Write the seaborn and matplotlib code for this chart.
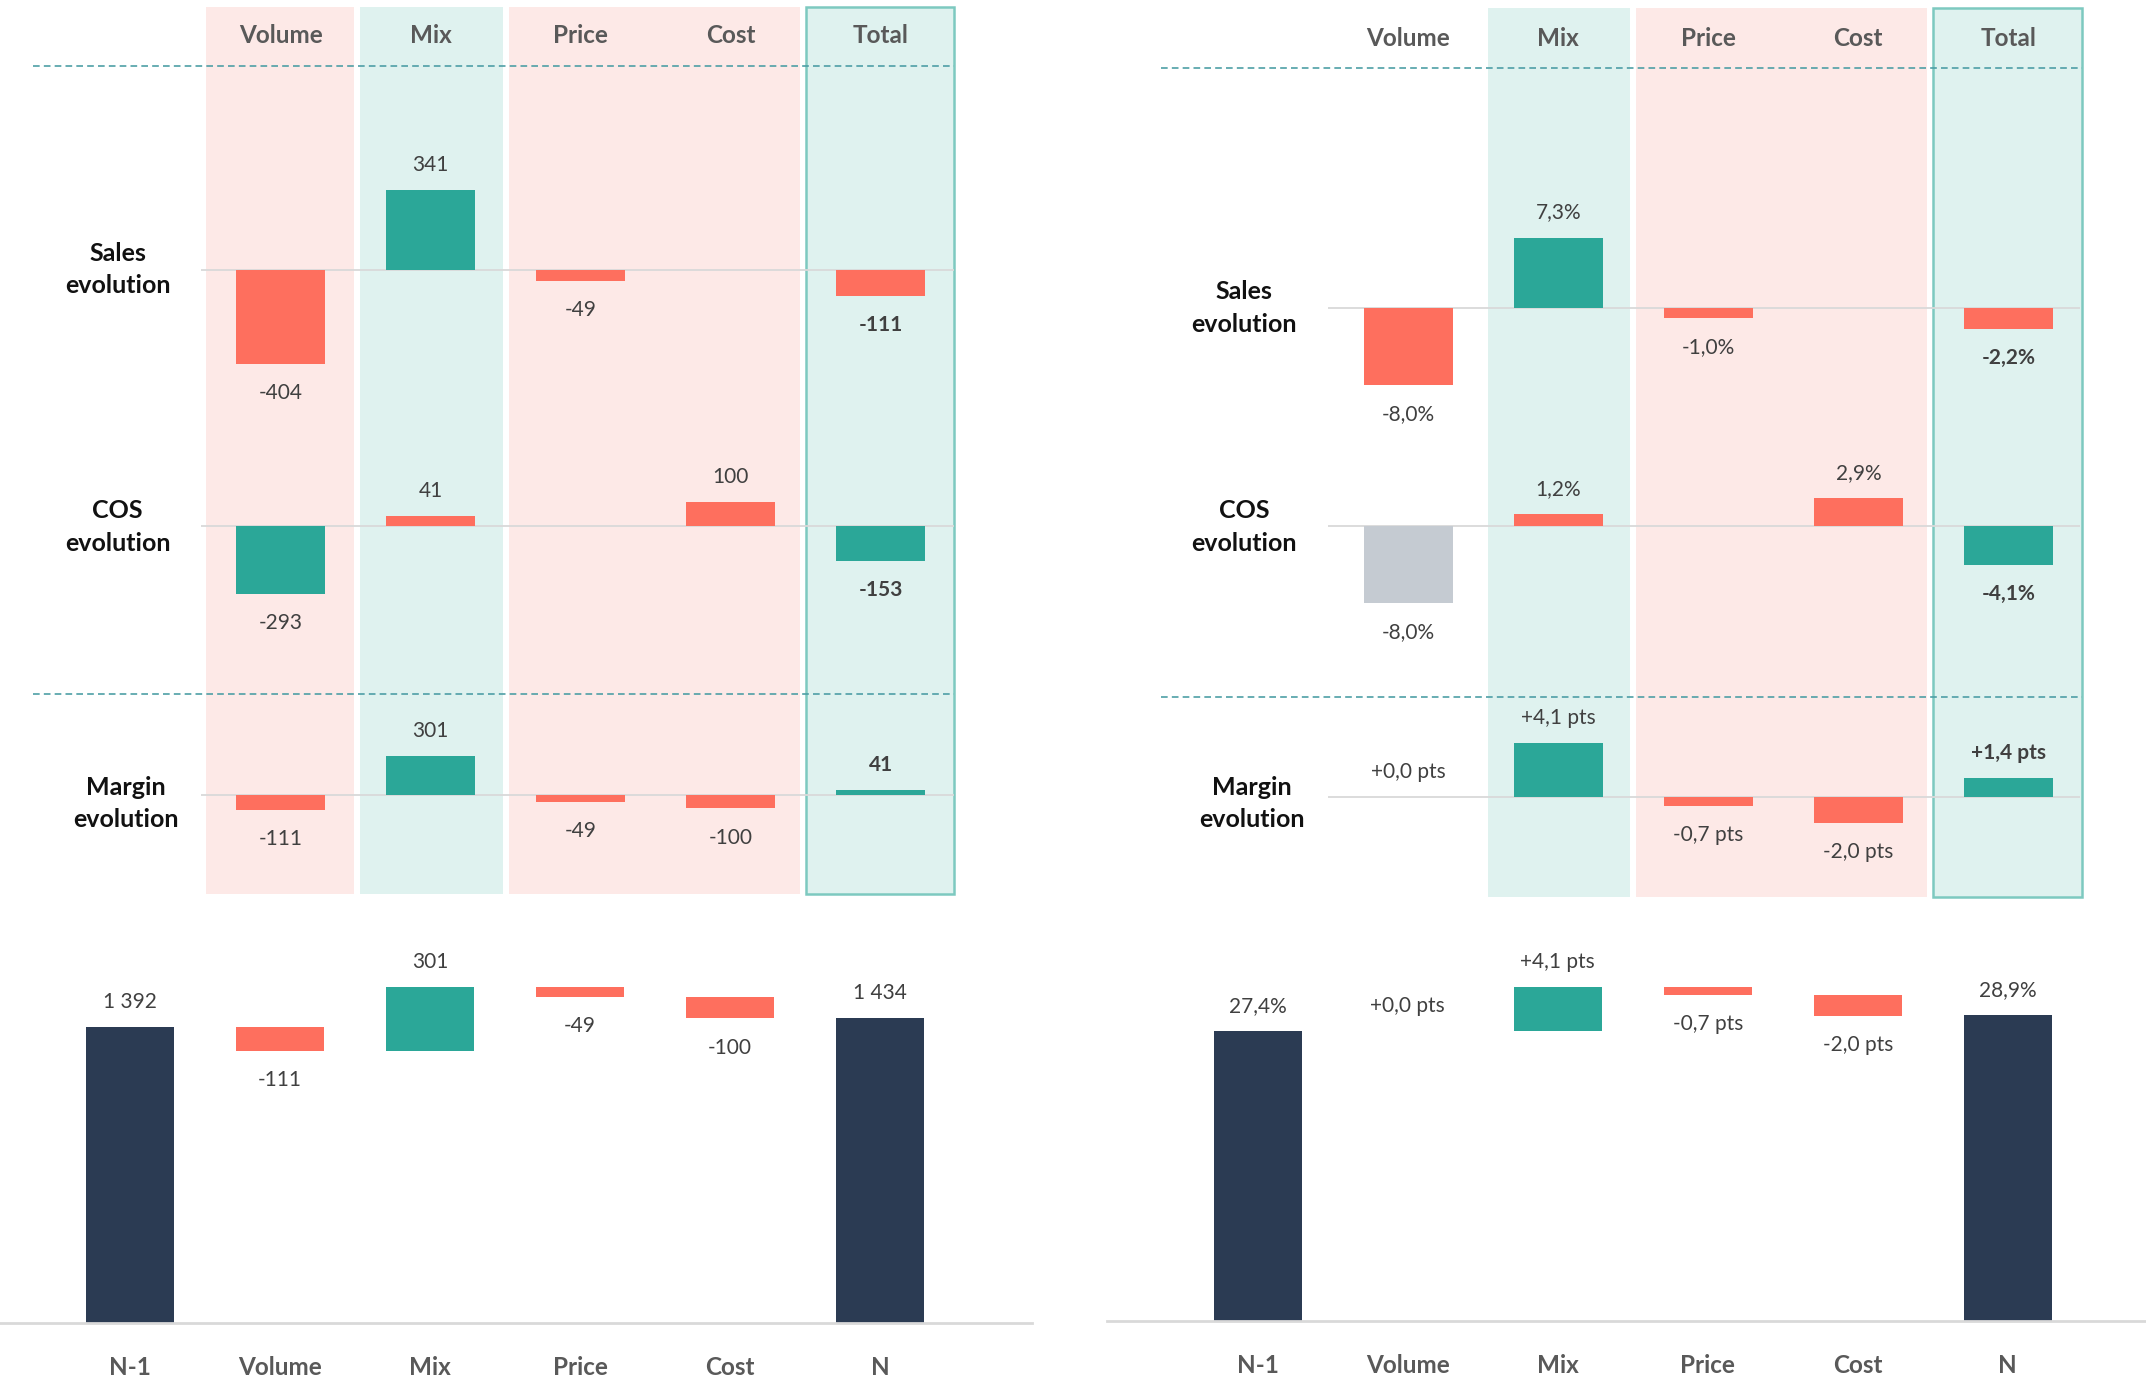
import numpy as np
import pandas as pd
import matplotlib.pyplot as plt
from matplotlib.patches import Rectangle
import seaborn as sns

# ---- data ----
drivers = ['Volume', 'Mix', 'Price', 'Cost', 'Total']
wf_steps = ['N-1', 'Volume', 'Mix', 'Price', 'Cost', 'N']

# left panel : values
sales_val = [-404, 341, -49, np.nan, -111]
cos_val = [-293, 41, np.nan, 100, -153]
margin_val = [-111, 301, -49, -100, 41]
sales_val_state = ['bad', 'good', 'bad', None, 'bad']
cos_val_state = ['good', 'bad', None, 'bad', 'good']
margin_val_state = ['bad', 'good', 'bad', 'bad', 'good']
margin_start = 1392
margin_end = 1434

# right panel : rates
sales_pct = [-8.0, 7.3, -1.0, np.nan, -2.2]
cos_pct = [-8.0, 1.2, np.nan, 2.9, -4.1]
margin_pts = [0.0, 4.1, -0.7, -2.0, 1.4]
sales_pct_state = ['bad', 'good', 'bad', None, 'bad']
cos_pct_state = ['neutral', 'bad', None, 'bad', 'good']
margin_pts_state = ['good', 'good', 'bad', 'bad', 'good']
rate_start = 27.4
rate_end = 28.9

# column shading per panel (None = no shading)
left_shading = ['bad', 'good', 'bad', 'bad', 'total']
right_shading = [None, 'good', 'bad', 'bad', 'total']

# ---- style ----
RED = '#FE6F5E'
TEAL = '#2BA798'
NAVY = '#2B3B53'
GREY = '#C5CBD2'
COLORS = {'bad': RED, 'good': TEAL, 'neutral': GREY}
PINK_BG = '#FDE9E7'
TEAL_BG = '#DFF2EF'
TOTAL_EDGE = '#7DC9C0'
DASH = '#4E9FA6'
BASE_GREY = '#D9D9D9'
HEAD_TXT = '#595959'
ROW_TXT = '#111111'
VAL_TXT = '#404040'

sns.set_theme(style='white')
plt.rcParams['font.family'] = ['Lato', 'DejaVu Sans']

W, H = 1568, 1008      # layout grid (reference preview pixels)
STEP = 109.6           # distance between two columns on that grid
BAR_W = 0.59
VAL_FS = 15
HEAD_FS = 17.5
ROW_FS = 18


def box(x0, y0, x1, y1):
    return [x0 / W, 1 - y1 / H, (x1 - x0) / W, (y1 - y0) / H]


def fmt_int(v):
    return f'{v:,.0f}'.replace(',', ' ')


def fmt_pct(v):
    return f'{v:.1f}%'.replace('.', ',')


def fmt_pts(v):
    return f'{v:+.1f} pts'.replace('.', ',')


fig = plt.figure(figsize=(21.46, 13.8), dpi=100)


def draw_background(x0, x1, c0, shading, top, bottom, head_y, dash_ys, dash_x0, row_labels):
    ax = fig.add_axes(box(x0, 0, x1, 660))
    ax.set_xlim((x0 - c0) / STEP, (x1 - c0) / STEP)
    ax.set_ylim(660, 0)
    ax.axis('off')
    spans = [(-0.5, 0.49), (0.53, 1.48), (1.52, 2.5), (2.5, 3.46), (3.5, 4.49)]
    for (a, b), kind in zip(spans, shading):
        if kind is None:
            continue
        if kind == 'total':
            ax.add_patch(Rectangle((a, top), b - a, bottom - top, facecolor=TEAL_BG,
                                   edgecolor=TOTAL_EDGE, lw=1.8, zorder=0))
        else:
            ax.add_patch(Rectangle((a, top), b - a, bottom - top, lw=0, zorder=0,
                                   facecolor=PINK_BG if kind == 'bad' else TEAL_BG))
    for y in dash_ys:
        ax.plot([(dash_x0 - c0) / STEP, 4.49], [y, y], color=DASH, lw=1.2,
                dashes=(4, 2.5), zorder=1)
    for i, d in enumerate(drivers):
        ax.text(i, head_y, d, ha='center', va='center', fontsize=HEAD_FS,
                fontweight='bold', color=HEAD_TXT)
    for lx, ly, txt in row_labels:
        ax.text((lx - c0) / STEP, ly, txt, ha='center', va='center', fontsize=ROW_FS,
                fontweight='bold', color=ROW_TXT, linespacing=1.5)


def draw_row(x0, x1, top, bottom, base, scale, c0, values, states, fmt):
    ax = fig.add_axes(box(x0, top, x1, bottom))
    df = pd.DataFrame({'driver': drivers, 'value': values, 'state': states})
    df = df.dropna(subset=['value'])
    pal = {d: COLORS[s] for d, s in zip(df['driver'], df['state'])}
    sns.barplot(data=df, x='driver', y='value', hue='driver', order=drivers,
                palette=pal, saturation=1, width=BAR_W, errorbar=None,
                legend=False, linewidth=0, ax=ax)
    ax.set_xlim((x0 - c0) / STEP, (x1 - c0) / STEP)
    ax.set_ylim(-(bottom - base) / scale, (base - top) / scale)
    ax.axhline(0, color=BASE_GREY, lw=1.3, zorder=0.5)
    ax.axis('off')
    for i, v in enumerate(values):
        if np.isnan(v):
            continue
        off = 18 if v >= 0 else -21
        ax.annotate(fmt(v), (i, v), xytext=(0, off), textcoords='offset points',
                    ha='center', va='center', fontsize=VAL_FS, color=VAL_TXT,
                    fontweight='bold' if drivers[i] == 'Total' else 'normal',
                    annotation_clip=False)


def draw_waterfall(x0, x1, top, base, scale, c0, start, deltas, end, fmt_end, fmt_delta):
    ax = fig.add_axes(box(x0, top, x1, base))
    deltas = list(deltas)
    before = start + np.cumsum([0] + deltas[:-1])
    heights = [start] + deltas + [end]
    bottoms = [0] + list(before) + [0]
    colors = [NAVY] + [TEAL if d >= 0 else RED for d in deltas] + [NAVY]
    sns.barplot(x=wf_steps, y=heights, bottom=bottoms, color=NAVY, saturation=1,
                width=BAR_W, errorbar=None, linewidth=0, ax=ax)
    for p, c in zip(ax.patches, colors):
        p.set_facecolor(c)
        p.set_edgecolor(c)
    ax.set_xlim((x0 - c0) / STEP, (x1 - c0) / STEP)
    ax.set_ylim(0, (base - top) / scale)
    ax.patch.set_visible(False)
    for s in ['left', 'right', 'top']:
        ax.spines[s].set_visible(False)
    ax.spines['bottom'].set_color(BASE_GREY)
    ax.spines['bottom'].set_linewidth(2)
    ax.set_yticks([])
    ax.set_xlabel('')
    ax.set_ylabel('')
    ax.tick_params(axis='x', length=0, pad=24, labelsize=HEAD_FS, labelcolor=HEAD_TXT)
    for t in ax.get_xticklabels():
        t.set_fontweight('bold')
    labels = [(0, start, fmt_end(start), 18)]
    for i, (b, d) in enumerate(zip(before, deltas), start=1):
        labels.append((i, b + d, fmt_delta(d), 18 if d >= 0 else -21))
    labels.append((len(wf_steps) - 1, end, fmt_end(end), 18))
    for i, y, txt, off in labels:
        ax.annotate(txt, (i, y), xytext=(0, off), textcoords='offset points',
                    ha='center', va='center', fontsize=VAL_FS, color=VAL_TXT,
                    annotation_clip=False)


# ---- left panel (values) ----
L0 = 205
draw_background(0, 760, L0, left_shading, 5, 653, 26, [48, 507], 24,
                [(86, 197, 'Sales\nevolution'), (86, 385, 'COS\nevolution'),
                 (92, 587, 'Margin\nevolution')])
draw_row(147, 697, 55, 300, 197, 0.170, L0, sales_val, sales_val_state, fmt_int)
draw_row(147, 697, 300, 500, 384, 0.170, L0, cos_val, cos_val_state, fmt_int)
draw_row(147, 697, 510, 650, 581, 0.095, L0, margin_val, margin_val_state, fmt_int)
draw_waterfall(0, 754, 680, 966, 0.155, 95, margin_start, margin_val[:4],
               margin_end, fmt_int, fmt_int)

# ---- right panel (rates) ----
R0 = 1029
draw_background(800, 1568, R0, right_shading, 6, 655, 28, [50, 509], 848,
                [(909, 225, 'Sales\nevolution'), (909, 385, 'COS\nevolution'),
                 (915, 587, 'Margin\nevolution')])
draw_row(970, 1520, 60, 320, 225, 7.05, R0, sales_pct, sales_pct_state, fmt_pct)
draw_row(970, 1520, 320, 500, 384, 7.05, R0, cos_pct, cos_pct_state, fmt_pct)
draw_row(970, 1520, 510, 650, 582, 9.6, R0, margin_pts, margin_pts_state, fmt_pts)
draw_waterfall(809, 1568, 680, 965, 7.74, 919, rate_start, margin_pts[:4],
               rate_end, fmt_pct, fmt_pts)

fig.savefig('out.png', dpi=100)
